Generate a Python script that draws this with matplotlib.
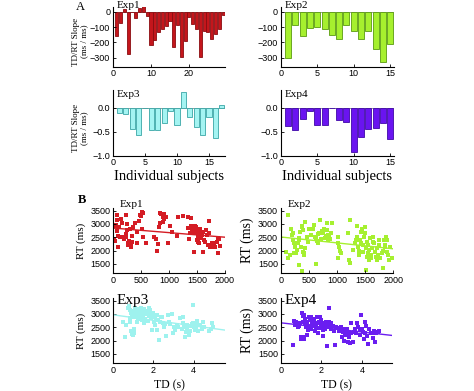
import numpy as np
import matplotlib
matplotlib.use("Agg")
import matplotlib.pyplot as plt

plt.rcParams["font.family"] = "Liberation Sans"

# ---- panel A: per-subject TD/RT slopes ----
slope_exp1 = [-157, -71, 17, -274, -5, -43, 22, 37, -28, -218, -183, -130, -114, -93, -63,
              -227, -88, -296, -188, -37, -82, -110, -296, -123, -132, -179, -147, -110, -22]
slope_exp2 = [-302, -86, -158, -109, -101, -113, -150, -179, -88, -127, -179, -123, -240, -324, -211]
slope_exp3 = [-0.10, -0.14, -0.45, -0.56, 0.0, -0.47, -0.47, -0.31, -0.06, -0.36, 0.32,
              -0.20, -0.41, -0.57, -0.20, -0.64, 0.05]
slope_exp4 = [-0.39, -0.47, -0.23, -0.07, -0.37, -0.37, 0.0, -0.26, -0.29, -0.92, -0.61,
              -0.45, -0.42, -0.31, -0.66]

# ---- panel B: RT vs TD scatter ----
td_exp1 = [72, 78, 30, 54, 18, 36, 102, 78, 96, 120, 90, 138, 168, 180, 204, 234, 240, 258, 228, 264,
           276, 288, 258, 312, 318, 330, 348, 336, 360, 396, 420, 432, 468, 480, 492, 510, 516, 528,
           534, 588, 726, 762, 786, 810, 828, 834, 840, 858, 882, 888, 900, 918, 918, 954, 990, 1020,
           1056, 1140, 1152, 1248, 1332, 1338, 1356, 1380, 1374, 1398, 1398, 1416, 1428, 1440, 1464,
           1476, 1488, 1494, 1500, 1512, 1524, 1530, 1542, 1560, 1572, 1596, 1602, 1608, 1632, 1644,
           1668, 1686, 1692, 1710, 1716, 1740, 1764, 1788, 1800, 1806, 1830, 1860, 1872, 1878, 1890, 1908]
rt_exp1 = [3350, 3150, 2925, 2960, 2425, 2375, 2900, 2750, 2550, 2500, 2125, 3175, 3025, 2525, 2425,
           2525, 2625, 2775, 3340, 2210, 2275, 2375, 3000, 2800, 2210, 2150, 2340, 2550, 2875, 3025,
           2710, 2275, 3125, 3340, 3300, 3450, 2825, 2525, 3400, 2300, 2525, 2425, 2000, 2250, 2875,
           3025, 3400, 3360, 3375, 3090, 3250, 3175, 3375, 3275, 2300, 2925, 2710, 2550, 3250, 3300,
           3250, 2840, 2450, 2840, 2675, 2925, 3225, 2775, 2675, 1940, 2925, 2875, 2725, 2675, 2400,
           2500, 2325, 2650, 2275, 2800, 2460, 2590, 1950, 2710, 2400, 2340, 2775, 2575, 2210, 2650,
           3100, 2150, 2300, 2150, 2150, 2275, 2150, 2325, 2460, 1900, 2425, 2190]

td_exp2 = [124, 95, 124, 166, 178, 195, 213, 225, 243, 255, 237, 272, 284, 314, 326, 332, 343, 361,
           373, 385, 403, 391, 414, 420, 432, 438, 332, 373, 462, 480, 509, 521, 539, 580, 592, 616,
           628, 639, 657, 669, 687, 699, 716, 740, 758, 770, 787, 805, 817, 829, 835, 847, 864, 876,
           888, 906, 628, 1012, 1024, 1042, 1054, 1066, 1024, 1202, 1220, 1231, 1231, 1291, 1320,
           1338, 1350, 1362, 1379, 1391, 1397, 1409, 1421, 1433, 1444, 1456, 1468, 1480, 1492, 1498,
           1516, 1527, 1539, 1551, 1557, 1563, 1575, 1587, 1598, 1610, 1622, 1634, 1646, 1664, 1675,
           1693, 1705, 1717, 1729, 1740, 1752, 1764, 1794, 1812, 1823, 1835, 1847, 1859, 1871, 1883,
           1894, 1906, 1918, 1942, 1971, 1516]
rt_exp2 = [3338, 1963, 1713, 1838, 2800, 2588, 2650, 2400, 2300, 2150, 1925, 1900, 2025, 2275, 2400,
           2463, 2713, 2125, 2900, 2925, 2775, 1963, 1900, 1838, 3088, 2088, 1463, 1238, 2525, 2338,
           2800, 2800, 2588, 2800, 2963, 2525, 2463, 2375, 2275, 2625, 2675, 3150, 2425, 2750, 2650,
           2800, 2463, 2550, 3025, 2775, 2400, 2588, 2525, 2425, 2650, 3050, 1488, 2525, 2275, 2150,
           2000, 1900, 1713, 2650, 1650, 3150, 1550, 2025, 2275, 2400, 2925, 2525, 2150, 2000, 1838,
           2400, 2275, 2713, 2800, 2213, 1963, 2525, 2650, 2875, 2088, 1775, 2338, 1900, 2213, 1650,
           2025, 2463, 1713, 1838, 2088, 2338, 2525, 2275, 1963, 1775, 1650, 2088, 1838, 2213, 2400,
           1713, 1900, 2000, 1338, 2400, 2150, 2213, 2525, 1963, 2400, 1838, 1650, 2150, 1713, 1275]

td_exp3 = [0.58, 0.63, 0.75, 0.78, 0.86, 0.90, 0.91, 0.95, 1.00, 1.03, 1.04, 0.83, 0.86, 0.96, 1.00,
           1.03, 1.06, 1.09, 1.13, 1.16, 1.19, 1.21, 1.23, 1.26, 1.29, 1.33, 1.36, 1.39, 1.43, 1.46,
           1.49, 1.53, 1.54, 1.58, 1.61, 1.66, 1.69, 1.72, 1.76, 1.79, 1.82, 1.86, 1.89, 1.91, 1.96,
           1.99, 2.02, 2.06, 2.09, 2.12, 2.16, 2.19, 2.24, 2.29, 2.32, 2.37, 2.42, 2.49, 2.52, 2.57,
           2.65, 2.74, 2.79, 2.82, 2.90, 2.95, 3.02, 3.07, 3.15, 3.23, 3.32, 3.40, 3.45, 3.48, 3.53,
           3.58, 3.62, 3.65, 3.68, 3.75, 3.81, 3.85, 3.90, 3.95, 3.98, 4.01, 4.05, 4.08, 4.11, 4.15,
           4.18, 4.23, 4.31, 4.41, 4.44, 4.51, 4.78, 4.84, 4.91, 4.98, 0.50]
rt_exp3 = [2150, 2588, 3213, 3300, 3150, 3050, 2375, 2250, 2213, 2300, 2425, 2838, 2713, 2900, 2963,
           3125, 3025, 3213, 3000, 2900, 3088, 2713, 2800, 3175, 3000, 3100, 2838, 3213, 2775, 3025,
           2925, 3175, 2650, 2800, 3125, 3000, 3088, 2750, 2925, 3213, 3150, 3050, 2838, 2400, 3025,
           2900, 2713, 2925, 2588, 2775, 2963, 2400, 2775, 2025, 2713, 2900, 2875, 2650, 2525, 2625,
           2175, 2963, 2713, 2613, 3000, 2275, 2525, 2400, 2588, 2500, 2838, 2425, 2900, 2650, 2525,
           2150, 2338, 2425, 2588, 2213, 2375, 2550, 2625, 2675, 3338, 2500, 2400, 2550, 2463, 2625,
           2750, 2375, 2588, 2425, 2713, 2525, 2375, 2425, 2650, 2500, 2713]

td_exp4 = [0.59, 0.66, 0.70, 0.75, 0.82, 0.87, 0.92, 0.95, 0.98, 1.02, 1.03, 1.05, 1.08, 1.11, 1.11,
           1.15, 1.16, 1.20, 1.21, 1.25, 1.28, 1.31, 1.34, 1.38, 1.41, 1.44, 1.48, 1.51, 1.54, 1.57,
           1.61, 1.64, 1.67, 1.70, 1.74, 1.77, 1.80, 1.84, 1.87, 1.90, 1.93, 1.97, 2.00, 2.03, 2.07,
           2.10, 2.13, 2.16, 2.20, 2.23, 2.26, 2.30, 2.33, 2.36, 2.39, 2.43, 2.46, 2.49, 2.56, 2.62,
           2.69, 2.72, 2.79, 2.89, 2.95, 3.00, 3.05, 3.08, 3.11, 3.18, 3.25, 3.28, 3.33, 3.38, 3.41,
           3.44, 3.48, 3.54, 3.61, 3.66, 3.70, 3.74, 3.82, 3.90, 3.93, 3.98, 4.02, 4.07, 4.10, 4.13,
           4.16, 4.20, 4.26, 4.30, 4.33, 4.43, 4.52, 4.56, 4.59, 4.64, 4.72, 4.80, 4.85]
rt_exp4 = [1838, 2750, 2588, 2713, 2675, 2500, 2550, 2650, 2150, 2050, 3025, 2088, 2925, 2150, 2713,
           2963, 2050, 2650, 2800, 2525, 2213, 2713, 2400, 2900, 2550, 2775, 2875, 2425, 2625, 2713,
           2550, 2800, 2375, 2675, 2500, 2875, 2650, 2300, 2713, 2463, 2900, 2550, 2775, 2650, 2400,
           2175, 2500, 2588, 2425, 2713, 2525, 1800, 2650, 3238, 2713, 2500, 2425, 2650, 2550, 2375,
           1838, 2525, 2463, 2375, 2525, 2150, 2425, 2338, 2000, 2213, 2300, 2425, 1963, 2150, 1925,
           2275, 2650, 1963, 2338, 2425, 2300, 2650, 2525, 2400, 2213, 2963, 2425, 2338, 2050, 2300,
           2713, 2550, 2175, 1875, 2425, 2275, 2275, 2088, 2375, 1963, 2275, 2338, 2375]

W, H = 474, 391
fig = plt.figure(figsize=(W / 100, H / 100), dpi=100)


def rect(left, top, right, bottom):
    return [left / W, 1 - bottom / H, (right - left) / W, (bottom - top) / H]


def style_axes(ax):
    for s in ("top", "right"):
        ax.spines[s].set_visible(False)
    for s in ("left", "bottom"):
        ax.spines[s].set_linewidth(0.8)
    ax.tick_params(direction="in", length=2, width=0.6, labelsize=6.5, pad=2)


serif = "Liberation Serif"


def bar_panel(box, vals, face, edge, ylim, yticks, xlim, xticks, title, title_y, ylabel=False,
              xlabel=False):
    ax = fig.add_axes(rect(*box))
    x = np.arange(1, len(vals) + 1)
    ax.bar(x, vals, width=0.82, color=face, edgecolor=edge, linewidth=0.6)
    ax.axhline(0, color="#888888", lw=0.6, zorder=0)
    ax.set_xlim(*xlim)
    ax.set_ylim(*ylim)
    ax.set_yticks(yticks)
    ax.set_xticks(xticks)
    style_axes(ax)
    fig.text((box[0] + 4) / W, 1 - title_y / H, title, fontsize=8, family=serif,
             ha="left", va="baseline")
    if ylabel:
        ax.set_ylabel("TD/RT Slope\n(ms / ms)", family=serif, fontsize=6.5, linespacing=1.1)
        ax.yaxis.set_label_coords(-0.22, 0.42)
    if xlabel:
        ax.set_xlabel("Individual subjects", family=serif, fontsize=10.5, labelpad=2)
    return ax


red_f, red_e = "#c4161c", "#8a0c10"
grn_f, grn_e = "#a6f02e", "#5a9a10"
cyn_f, cyn_e = "#a4f4f2", "#3aa6a6"
vio_f, vio_e = "#6a14f0", "#4008a8"

bar_panel((113, 7, 225, 66.7), slope_exp1, red_f, red_e, (-357, 30), [0, -100, -200, -300],
          (0, 29.5), [0, 10, 20], "Exp1", 7.5, ylabel=True)
bar_panel((280.7, 7, 394, 66.7), slope_exp2, grn_f, grn_e, (-357, 30), [0, -100, -200, -300],
          (0, 15.5), [0, 5, 10, 15], "Exp2", 7.5)
bar_panel((113, 90, 225, 155.7), slope_exp3, cyn_f, cyn_e, (-1, 0.37), [0, -0.5, -1],
          (0, 17.5), [0, 5, 10, 15], "Exp3", 97, ylabel=True, xlabel=True)
bar_panel((280.7, 90, 394, 155.7), slope_exp4, vio_f, vio_e, (-1, 0.37), [0, -0.5, -1],
          (0, 15.5), [0, 5, 10, 15], "Exp4", 97, xlabel=True)


def scatter_panel(box, td, rt, color, xlim, xticks, title, tsize, title_xy, ylabel_size, xlabel=False):
    ax = fig.add_axes(rect(*box))
    td = np.asarray(td, float)
    rt = np.asarray(rt, float)
    ax.scatter(td, rt, marker="s", s=5, color=color, linewidths=0)
    k, b = np.polyfit(td, rt, 1)
    xx = np.array(xlim)
    ax.plot(xx, k * xx + b, color=color, lw=1)
    ax.set_xlim(*xlim)
    ax.set_ylim(1150, 3600)
    ax.set_xticks(xticks)
    ax.set_yticks([1500, 2000, 2500, 3000, 3500])
    style_axes(ax)
    ax.text(*title_xy, title, transform=ax.transAxes, fontsize=tsize, family=serif, ha="left", va="bottom")
    ax.set_ylabel("RT (ms)", family=serif, fontsize=ylabel_size, labelpad=3)
    if xlabel:
        ax.set_xlabel("TD (s)", family=serif, fontsize=8.5, labelpad=3)
    return ax


scatter_panel((113, 208, 225, 273.3), td_exp1, rt_exp1, "#d41c24", (0, 2000),
              [0, 500, 1000, 1500, 2000], "Exp1", 8, (0.06, 0.98), 8)
scatter_panel((280.7, 208, 393.3, 273.3), td_exp2, rt_exp2, "#a6f030", (0, 2000),
              [0, 500, 1000, 1500, 2000], "Exp2", 8, (0.06, 0.98), 10)
scatter_panel((113, 298, 225, 363.3), td_exp3, rt_exp3, "#9ef2ee", (0, 5.55),
              [0, 2, 4], "Exp3", 11, (0.03, 0.86), 8, xlabel=True)
scatter_panel((280.7, 298, 392.3, 363.3), td_exp4, rt_exp4, "#6a1ef0", (0, 5.5),
              [0, 2, 4], "Exp4", 11, (0.03, 0.86), 10, xlabel=True)

fig.text(80 / W, 1 - 7 / H, "A", family=serif, fontsize=9, ha="center", va="center")
fig.text(82 / W, 1 - 200 / H, "B", family=serif, fontsize=9, fontweight="bold", ha="center", va="center")

fig.savefig("out.png", dpi=100)
